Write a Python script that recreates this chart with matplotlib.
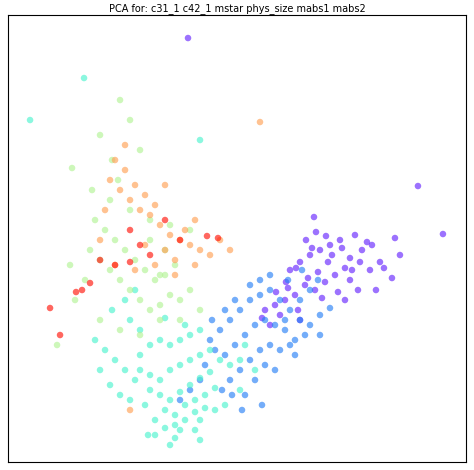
import matplotlib
matplotlib.use("Agg")
import matplotlib.pyplot as plt

# point positions (pixel-like units, y downwards) and colour value 0..1
purple_x = [188, 418, 443, 314, 290, 300, 310, 320, 330, 340, 350, 360, 370, 380, 395, 400, 372, 355, 345, 335,
            325, 315, 305, 295, 285, 275, 265, 350, 362, 338, 328, 318, 308, 298, 288, 345, 358, 367, 312, 322,
            300, 280, 270, 332, 342, 352, 384, 392, 376, 262, 296, 326, 306, 316, 286, 276]
purple_y = [38, 186, 234, 217, 270, 262, 255, 250, 245, 240, 258, 262, 270, 262, 238, 255, 245, 235, 268, 275,
            282, 290, 285, 295, 300, 305, 310, 280, 250, 292, 262, 272, 278, 310, 288, 300, 290, 242, 248, 298,
            320, 315, 325, 255, 248, 270, 268, 278, 290, 318, 268, 236, 240, 232, 282, 292]
blue_x = [220, 230, 240, 250, 260, 270, 280, 290, 300, 310, 320, 330, 235, 245, 255, 265, 275, 285, 295, 305,
          225, 215, 205, 250, 260, 270, 280, 290, 300, 240, 230, 265, 275, 255, 245, 285, 295, 310, 320, 200,
          210, 190, 180, 235, 225, 260, 270, 250, 288, 302, 318, 262, 242, 232, 212, 222]
blue_y = [330, 320, 310, 300, 295, 290, 300, 310, 320, 325, 315, 308, 345, 335, 325, 320, 325, 330, 340, 335,
          355, 350, 365, 360, 350, 345, 350, 345, 300, 370, 380, 365, 370, 380, 395, 320, 355, 290, 335, 380,
          340, 390, 400, 300, 310, 280, 275, 285, 280, 270, 280, 405, 410, 395, 320, 390]
cyan_x = [140, 150, 160, 170, 180, 190, 200, 210, 220, 230, 150, 160, 170, 180, 190, 200, 210, 165, 175, 185,
          195, 205, 215, 145, 155, 165, 175, 185, 195, 205, 135, 125, 115, 105, 95, 100, 110, 120, 130, 140,
          170, 180, 190, 200, 160, 150, 140, 130, 180, 200, 155, 175, 195, 215, 225, 245, 200, 84, 30, 148,
          200, 165, 185, 125, 112, 135, 240, 255, 240, 170]
cyan_y = [370, 375, 380, 370, 365, 360, 355, 350, 360, 365, 390, 395, 400, 392, 385, 378, 372, 410, 415, 405,
          400, 395, 388, 405, 420, 428, 425, 420, 412, 408, 380, 370, 360, 350, 340, 370, 385, 395, 400, 355,
          345, 340, 335, 330, 340, 345, 330, 320, 430, 420, 435, 438, 430, 410, 405, 345, 440, 78, 120, 435,
          140, 318, 325, 300, 310, 290, 360, 370, 390, 445]
green_x = [90, 100, 110, 120, 130, 140, 150, 160, 170, 180, 190, 95, 105, 115, 125, 135, 145, 155, 165, 175,
           85, 75, 100, 120, 140, 160, 180, 110, 130, 150, 170, 190, 200, 92, 118, 57, 70, 100, 140, 160,
           120, 72, 130, 150, 165, 112]
green_y = [250, 260, 270, 280, 290, 300, 310, 305, 295, 300, 290, 220, 230, 240, 250, 260, 270, 280, 275, 265,
           280, 300, 320, 330, 335, 320, 320, 200, 210, 220, 225, 230, 310, 190, 180, 345, 265, 135, 150, 275,
           100, 168, 120, 240, 250, 160]
orange_x = [110, 120, 130, 140, 150, 160, 170, 180, 190, 200, 210, 115, 125, 135, 145, 155, 165, 175, 185, 195,
            105, 100, 115, 135, 155, 175, 195, 125, 260, 145, 165, 220, 230, 130]
orange_y = [180, 190, 200, 210, 215, 225, 235, 240, 245, 250, 255, 160, 170, 185, 195, 205, 250, 260, 230, 220,
            210, 240, 265, 270, 265, 275, 265, 145, 122, 245, 185, 240, 250, 410]
red_x = [50, 76, 90, 60, 130, 207, 115, 140, 150, 180, 218, 130, 165, 100, 82]
red_y = [308, 292, 283, 335, 262, 236, 265, 245, 255, 240, 238, 230, 220, 260, 290]

xs = purple_x + blue_x + cyan_x + green_x + orange_x + red_x
ys = purple_y + blue_y + cyan_y + green_y + orange_y + red_y
cs = ([0.05] * len(purple_x) + [0.17] * len(blue_x) + [0.4] * len(cyan_x) +
      [0.6] * len(green_x) + [0.78] * len(orange_x) + [0.97] * len(red_x))

fig = plt.figure(figsize=(4.74, 4.70), dpi=100)
ax = fig.add_axes([0.017, 0.017, 0.966, 0.951])
ax.scatter(xs, ys, c=cs, cmap="rainbow", vmin=0, vmax=1, s=22, alpha=0.65, edgecolors="none")
ax.set_xlim(8, 466)
ax.set_ylim(462, 15)
ax.set_xticks([])
ax.set_yticks([])
ax.set_title("PCA for: c31_1 c42_1 mstar phys_size mabs1 mabs2", fontsize=7, pad=3)
fig.savefig("out.png")
